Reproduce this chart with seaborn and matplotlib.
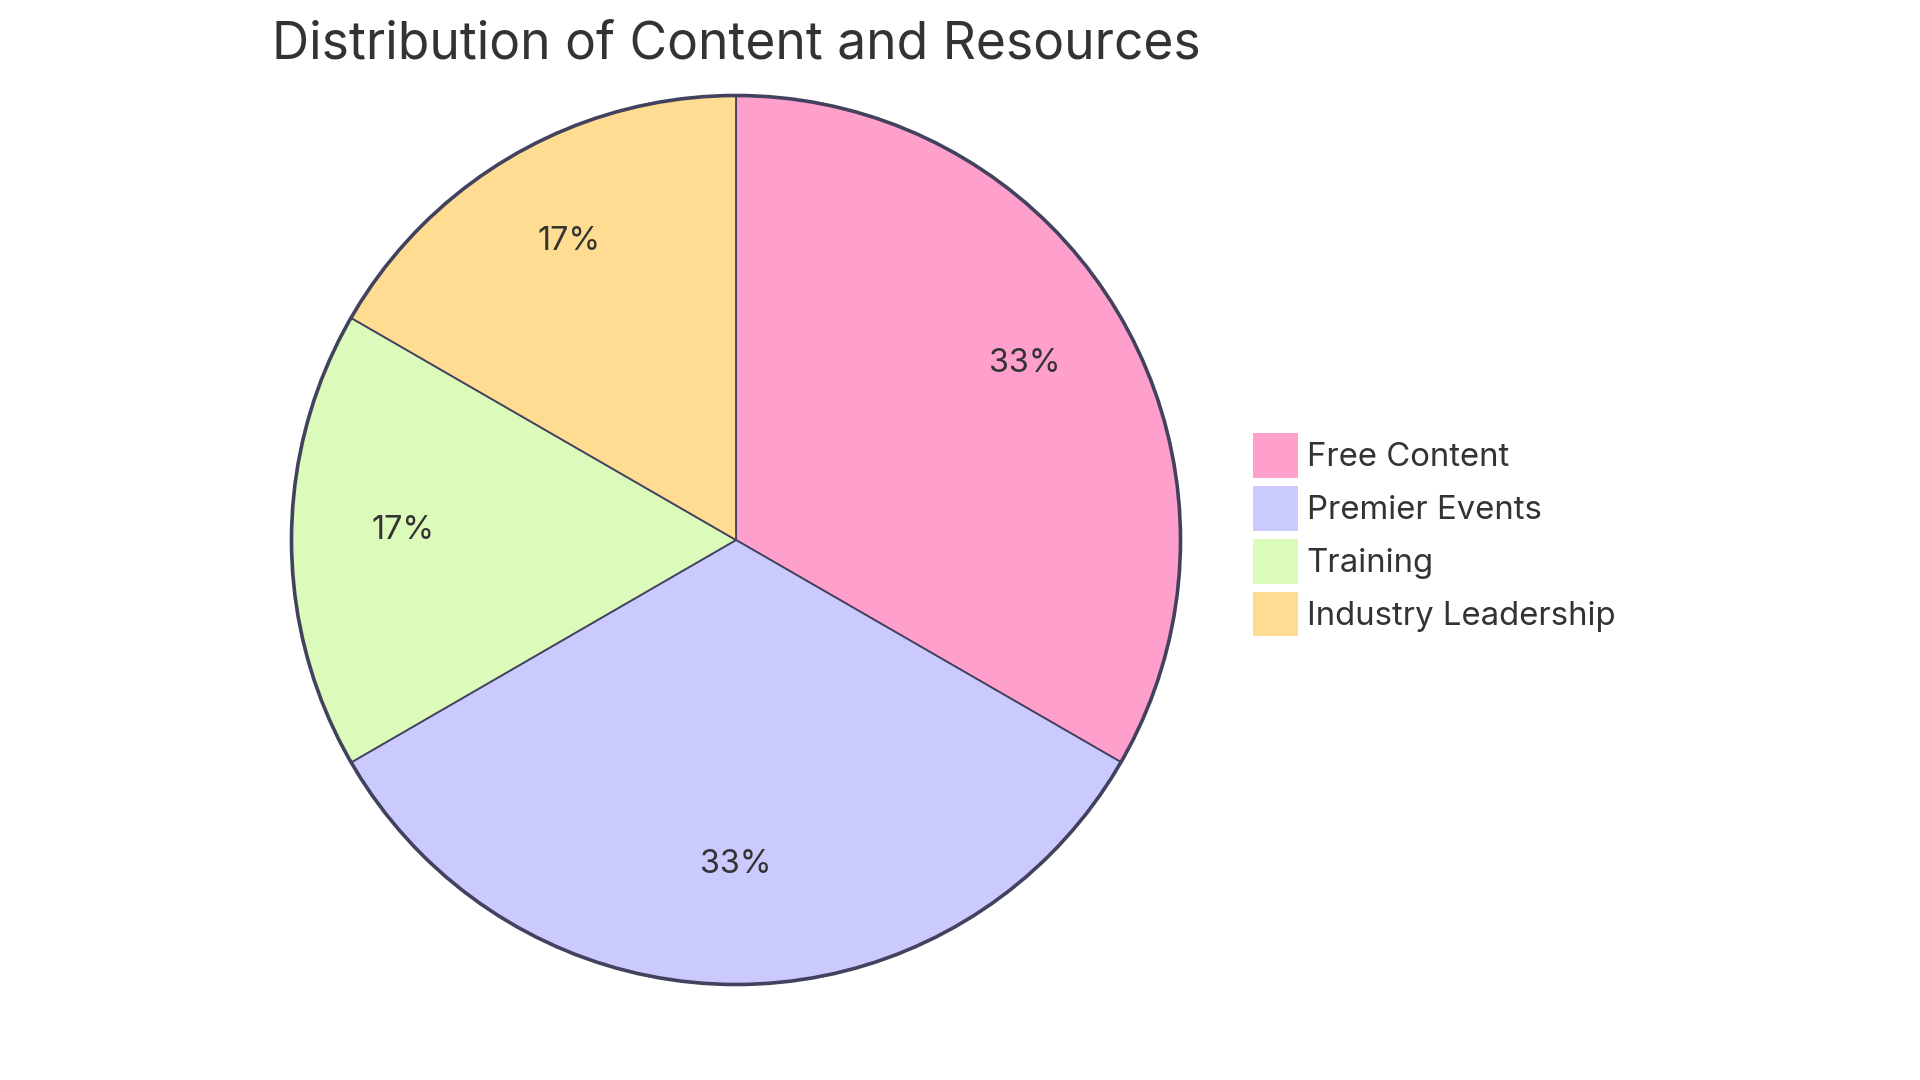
"""Pie chart of content and resource distribution."""

import matplotlib
matplotlib.use("Agg")
import matplotlib.pyplot as plt
from matplotlib.patches import Circle, Patch
import seaborn as sns

CATEGORIES = ["Free Content", "Premier Events", "Training", "Industry Leadership"]
SHARES = [33.33, 33.33, 16.67, 16.67]
COLORS = ["#FF9FCB", "#CACAFF", "#DCFABA", "#FEDC92"]
TITLE = "Distribution of Content and Resources"

EDGE = "#42425F"
TEXT = "#333333"

W, H = 1920, 1080
CX, CY, R = 736, 540, 444.5

sns.set_theme(style="white")
plt.rcParams["font.family"] = ["Inter", "DejaVu Sans"]

fig = plt.figure(figsize=(W / 100, H / 100), dpi=100, facecolor="white")
ax = fig.add_axes([(CX - R) / W, (H - CY - R) / H, 2 * R / W, 2 * R / H])

wedges, _, pct_texts = ax.pie(
    SHARES,
    colors=COLORS,
    startangle=90,
    counterclock=False,
    autopct="%.0f%%",
    pctdistance=0.75,
    wedgeprops={"edgecolor": EDGE, "linewidth": 1.3},
    textprops={"fontsize": 23.3, "color": TEXT},
)
# Percent labels sit a little above their slice midpoints
for t in pct_texts:
    x, y = t.get_position()
    t.set_position((x, y + 0.021))

ax.set_xlim(-1, 1)
ax.set_ylim(-1, 1)
ax.set_aspect("equal")
ax.axis("off")

# Heavier ring round the outside
ax.add_patch(Circle((0, 0), 1, fill=False, edgecolor=EDGE, linewidth=2.6, clip_on=False))

fig.text(736 / W, 1 - 45 / H, TITLE, ha="center", va="center",
         fontsize=37.1, color=TEXT)

handles = [Patch(facecolor=c, edgecolor="none") for c in COLORS]
ax.legend(
    handles,
    CATEGORIES,
    loc="upper left",
    bbox_to_anchor=(1253 / W, 1 - 433 / H),
    bbox_transform=fig.transFigure,
    frameon=False,
    fontsize=23.7,
    labelcolor=TEXT,
    borderpad=0,
    borderaxespad=0,
    handlelength=45 / 33,
    handleheight=1.72,
    labelspacing=8 / 33,
    handletextpad=9 / 33,
)

fig.savefig("out.png", dpi=100)
plt.close(fig)
